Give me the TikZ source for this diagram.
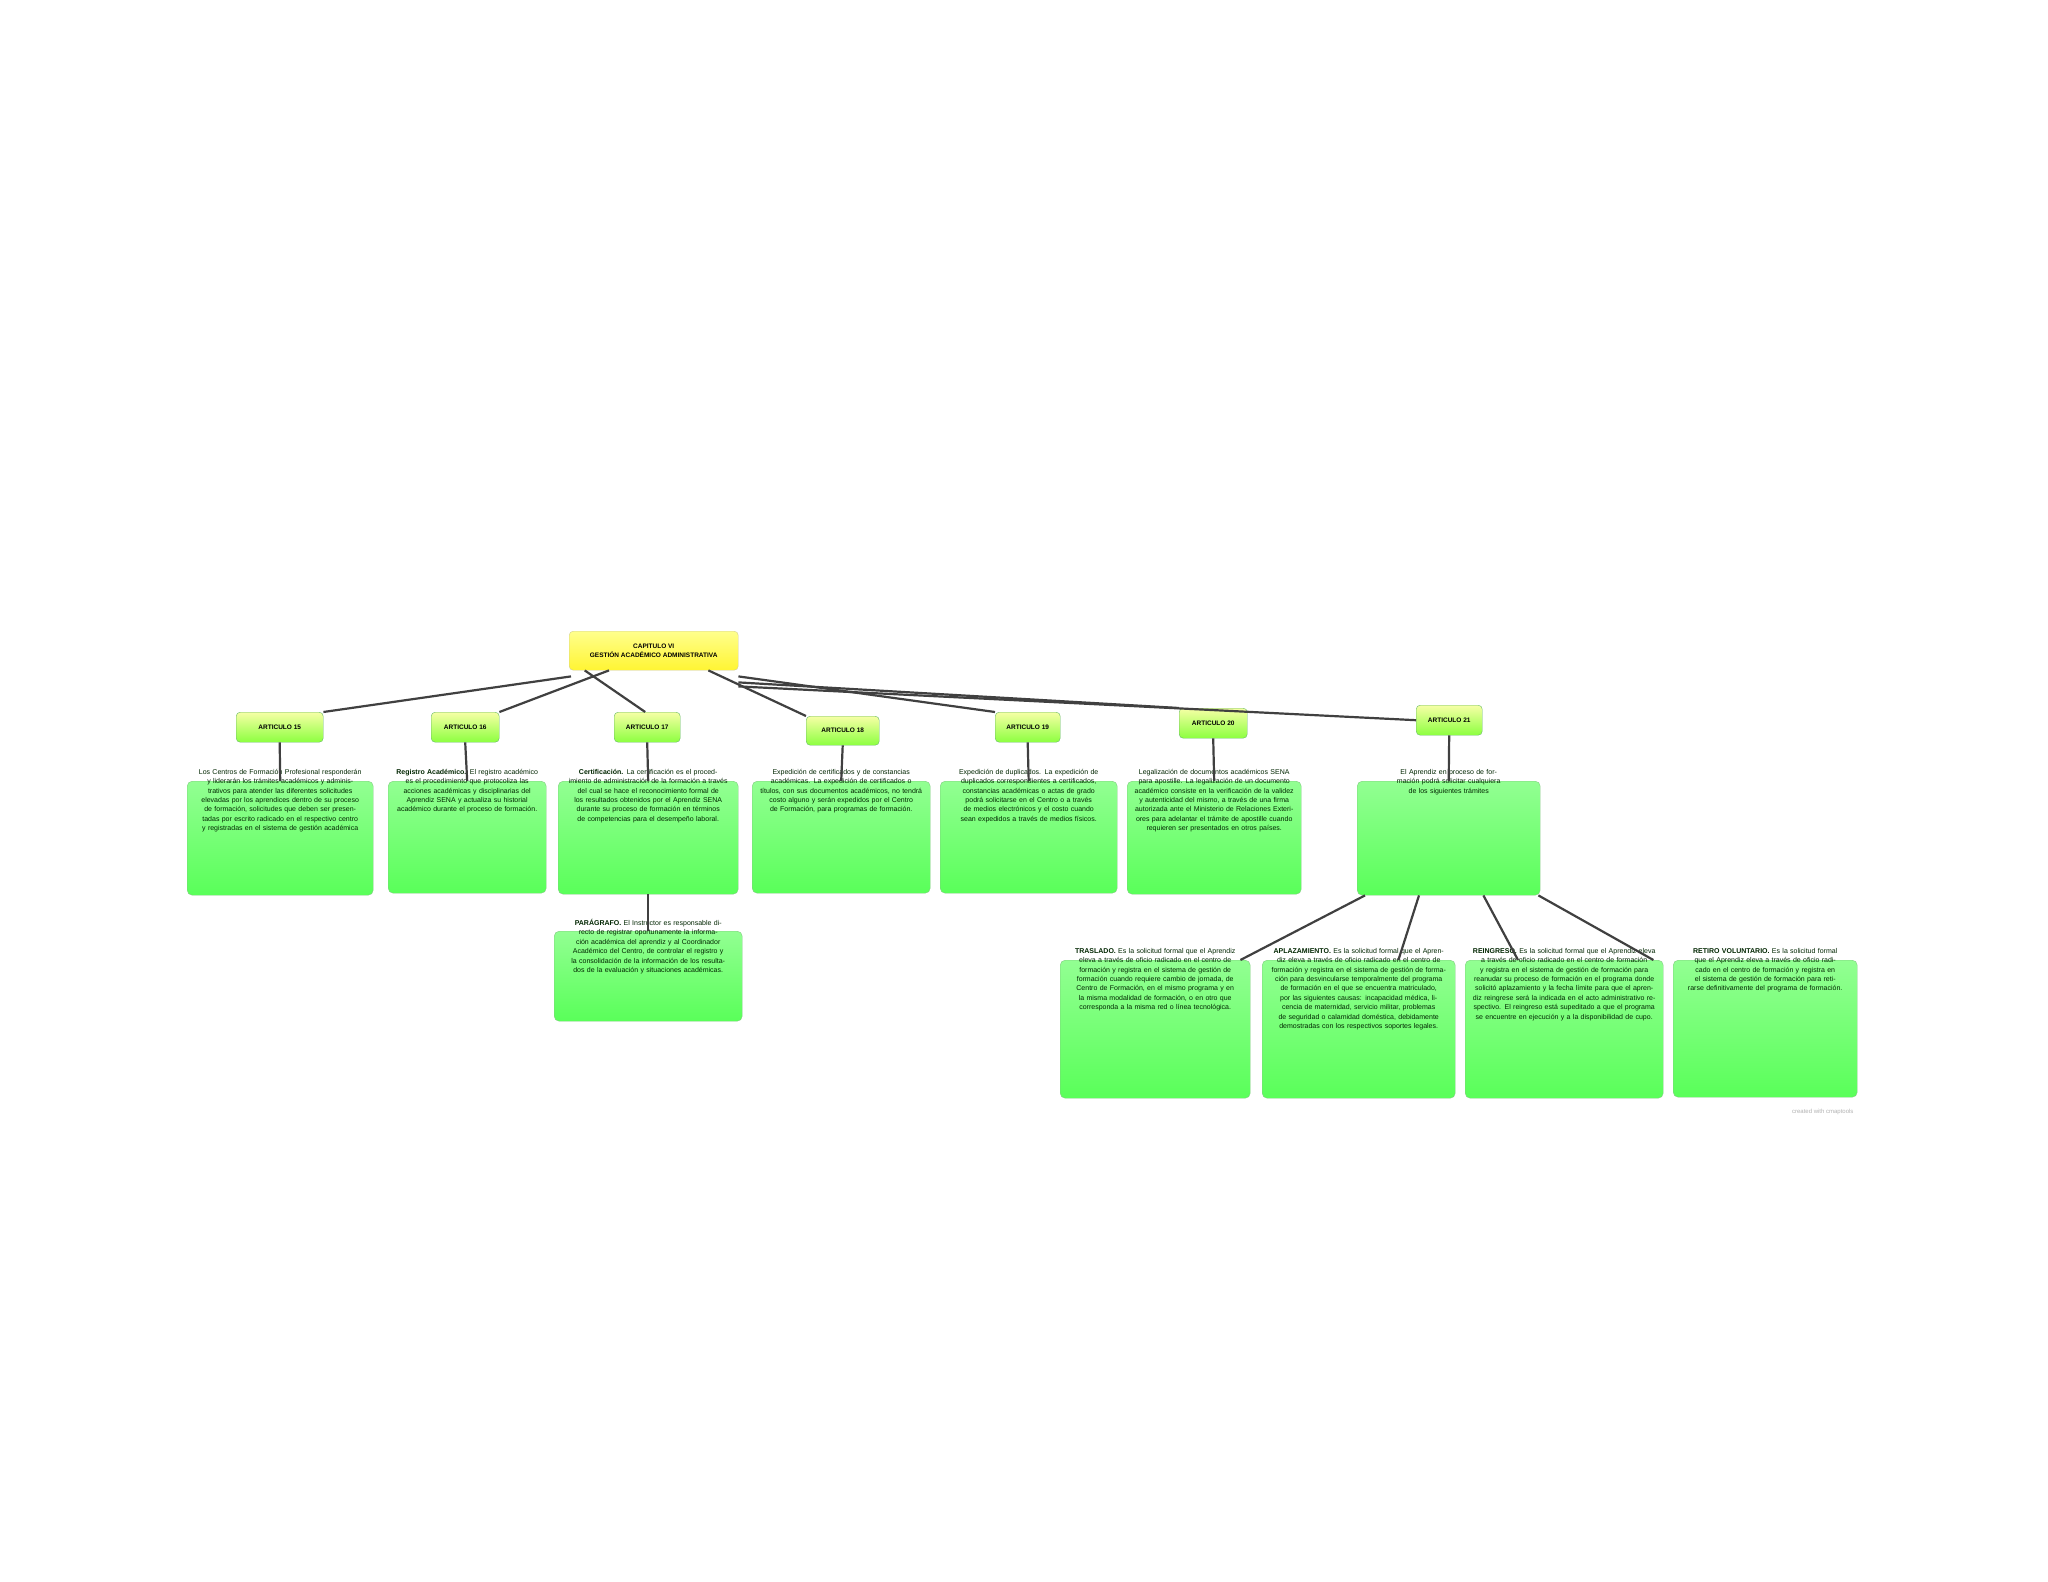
\documentclass[tikz,border=0pt]{standalone}
\usepackage{fontspec}
\setmainfont{Liberation Sans}
\begin{document}
\begin{tikzpicture}[x=1pt,y=-1pt,
  conn/.style={draw=black!75,line width=2.2pt},
  thin conn/.style={draw=black!70,line width=1.4pt},
  artbox/.style={draw=green!55!black!60,rounded corners=4pt,top color=green!10!yellow!35,bottom color=green!60!yellow!75,anchor=north west,inner sep=0pt,font=\fontsize{6.5}{8}\selectfont\bfseries},
  txtbox/.style={draw=green!60!black!50,rounded corners=5pt,top color=green!45!white!95,bottom color=green!65!white,anchor=north west,inner sep=0pt},
  txt/.style={anchor=north,align=center,inner sep=0pt,font=\fontsize{7}{9.4}\selectfont,text=green!15!black}]
\useasboundingbox (0,0) rectangle (2048,1582);
\fill[white] (0,0) rectangle (2048,1582);
% root
\node[draw=yellow!60!black!50,rounded corners=4pt,top color=yellow!45,bottom color=yellow!90!orange!80,anchor=north west,minimum width=169pt,minimum height=39pt,inner sep=0pt,align=center,font=\fontsize{6.5}{9}\selectfont\bfseries] (root) at (569,631) {CAPITULO VI\\GESTIÓN ACADÉMICO ADMINISTRATIVA};
% articles
\node[artbox,minimum width=87pt,minimum height=30pt] (a15) at (236,712) {ARTICULO 15};
\node[artbox,minimum width=68pt,minimum height=30pt] (a16) at (431,712) {ARTICULO 16};
\node[artbox,minimum width=66pt,minimum height=30pt] (a17) at (614,712) {ARTICULO 17};
\node[artbox,minimum width=73pt,minimum height=29pt] (a18) at (806,716) {ARTICULO 18};
\node[artbox,minimum width=65pt,minimum height=30pt] (a19) at (995,712) {ARTICULO 19};
\node[artbox,minimum width=68pt,minimum height=30pt] (a20) at (1179,708) {ARTICULO 20};
\node[artbox,minimum width=66pt,minimum height=30pt] (a21) at (1416,705) {ARTICULO 21};
% content boxes
\node[txtbox,minimum width=186pt,minimum height=114pt] (b15) at (187,781) {};
\node[txtbox,minimum width=158pt,minimum height=112pt] (b16) at (388,781) {};
\node[txtbox,minimum width=180pt,minimum height=113pt] (b17) at (558,781) {};
\node[txtbox,minimum width=178pt,minimum height=112pt] (b18) at (752,781) {};
\node[txtbox,minimum width=177pt,minimum height=112pt] (b19) at (940,781) {};
\node[txtbox,minimum width=174pt,minimum height=113pt] (b20) at (1127,781) {};
\node[txtbox,minimum width=183pt,minimum height=114pt] (b21) at (1357,781) {};
\node[txtbox,minimum width=188pt,minimum height=90pt] (bp) at (554,931) {};
\node[txtbox,minimum width=190pt,minimum height=138pt] (bt) at (1060,960) {};
\node[txtbox,minimum width=193pt,minimum height=138pt] (ba) at (1262,960) {};
\node[txtbox,minimum width=198pt,minimum height=138pt] (br) at (1465,960) {};
\node[txtbox,minimum width=184pt,minimum height=137pt] (bv) at (1673,960) {};
% texts
\node[txt,text width=172pt] (t15) at ([yshift=12pt]b15.north) {Los Centros de Formación Profesional responderán y liderarán los trámites académicos y administrativos para atender las diferentes solicitudes elevadas por los aprendices dentro de su proceso de formación, solicitudes que deben ser presentadas por escrito radicado en el respectivo centro y registradas en el sistema de gestión académica};
\node[txt,text width=145pt] (t16) at ([yshift=12pt]b16.north) {\textbf{Registro Académico.} El registro académico es el procedimiento que protocoliza las acciones académicas y disciplinarias del Aprendiz SENA y actualiza su historial académico durante el proceso de formación.};
\node[txt,text width=165pt] (t17) at ([yshift=12pt]b17.north) {\textbf{Certificación.} La certificación es el procedimiento de administración de la formación a través del cual se hace el reconocimiento formal de los resultados obtenidos por el Aprendiz SENA durante su proceso de formación en términos de competencias para el desempeño laboral.};
\node[txt,text width=165pt] (t18) at ([yshift=12pt]b18.north) {Expedición de certificados y de constancias académicas. La expedición de certificados o títulos, con sus documentos académicos, no tendrá costo alguno y serán expedidos por el Centro de Formación, para programas de formación.};
\node[txt,text width=162pt] (t19) at ([yshift=12pt]b19.north) {Expedición de duplicados. La expedición de duplicados correspondientes a certificados, constancias académicas o actas de grado podrá solicitarse en el Centro o a través de medios electrónicos y el costo cuando sean expedidos a través de medios físicos.};
\node[txt,text width=160pt] (t20) at ([yshift=12pt]b20.north) {Legalización de documentos académicos SENA para apostille. La legalización de un documento académico consiste en la verificación de la validez y autenticidad del mismo, a través de una firma autorizada ante el Ministerio de Relaciones Exteriores para adelantar el trámite de apostille cuando requieren ser presentados en otros países.};
\node[txt,text width=140pt] (t21) at ([yshift=12pt]b21.north) {El Aprendiz en proceso de formación podrá solicitar cualquiera de los siguientes trámites};
\node[txt,text width=172pt] (tp) at ([yshift=12pt]bp.north) {\textbf{PARÁGRAFO.} El Instructor es responsable directo de registrar oportunamente la información académica del aprendiz y al Coordinador Académico del Centro, de controlar el registro y la consolidación de la información de los resultados de la evaluación y situaciones académicas.};
\node[txt,text width=178pt] (tt) at ([yshift=12pt]bt.north) {\textbf{TRASLADO.} Es la solicitud formal que el Aprendiz eleva a través de oficio radicado en el centro de formación y registra en el sistema de gestión de formación cuando requiere cambio de jornada, de Centro de Formación, en el mismo programa y en la misma modalidad de formación, o en otro que corresponda a la misma red o línea tecnológica.};
\node[txt,text width=180pt] (ta) at ([yshift=12pt]ba.north) {\textbf{APLAZAMIENTO.} Es la solicitud formal que el Aprendiz eleva a través de oficio radicado en el centro de formación y registra en el sistema de gestión de formación para desvincularse temporalmente del programa de formación en el que se encuentra matriculado, por las siguientes causas: incapacidad médica, licencia de maternidad, servicio militar, problemas de seguridad o calamidad doméstica, debidamente demostradas con los respectivos soportes legales.};
\node[txt,text width=184pt] (tr) at ([yshift=12pt]br.north) {\textbf{REINGRESO.} Es la solicitud formal que el Aprendiz eleva a través de oficio radicado en el centro de formación y registra en el sistema de gestión de formación para reanudar su proceso de formación en el programa donde solicitó aplazamiento y la fecha límite para que el aprendiz reingrese será la indicada en el acto administrativo respectivo. El reingreso está supeditado a que el programa se encuentre en ejecución y a la disponibilidad de cupo.};
\node[txt,text width=172pt] (tv) at ([yshift=12pt]bv.north) {\textbf{RETIRO VOLUNTARIO.} Es la solicitud formal que el Aprendiz eleva a través de oficio radicado en el centro de formación y registra en el sistema de gestión de formación para retirarse definitivamente del programa de formación.};
\node[anchor=east,font=\fontsize{6}{7}\selectfont,text=black!30] (wm) at (1857,1112) {created with cmaptools};
% connectors
\begin{scope}[on background layer/.style={}]
\end{scope}
\draw[conn] ([xshift=2pt,yshift=-6pt]root.south west) -- (a15.north east);
\draw[conn] ([xshift=40pt]root.south west) -- (a16.north east);
\draw[conn] ([xshift=-69pt]root.south) -- ([xshift=-2pt]a17.north);
\draw[conn] ([xshift=-30pt]root.south east) -- (a18.north west);
\draw[conn] ([yshift=-6pt]root.south east) -- (a19.north west);
\draw[conn] ([yshift=-12pt]root.south east) -- (a20.north west);
\draw[conn] ([yshift=-16pt]root.south east) -- (a21.west);
\foreach \a/\b in {a15/b15,a16/b16,a17/b17,a18/b18,a19/b19,a20/b20,a21/b21,b17/bp}
  \draw[conn] (\a.south) -- (\b.north);
\draw[conn] ([xshift=8pt]b21.south west) -- ([xshift=-10pt]bt.north east);
\draw[conn] ([xshift=62pt]b21.south west) -- ([xshift=-57pt]ba.north east);
\draw[conn] ([xshift=-57pt]b21.south east) -- ([xshift=53pt]br.north west);
\draw[conn] ([xshift=-2pt]b21.south east) -- ([xshift=-10pt]br.north east);
\end{tikzpicture}
\end{document}
